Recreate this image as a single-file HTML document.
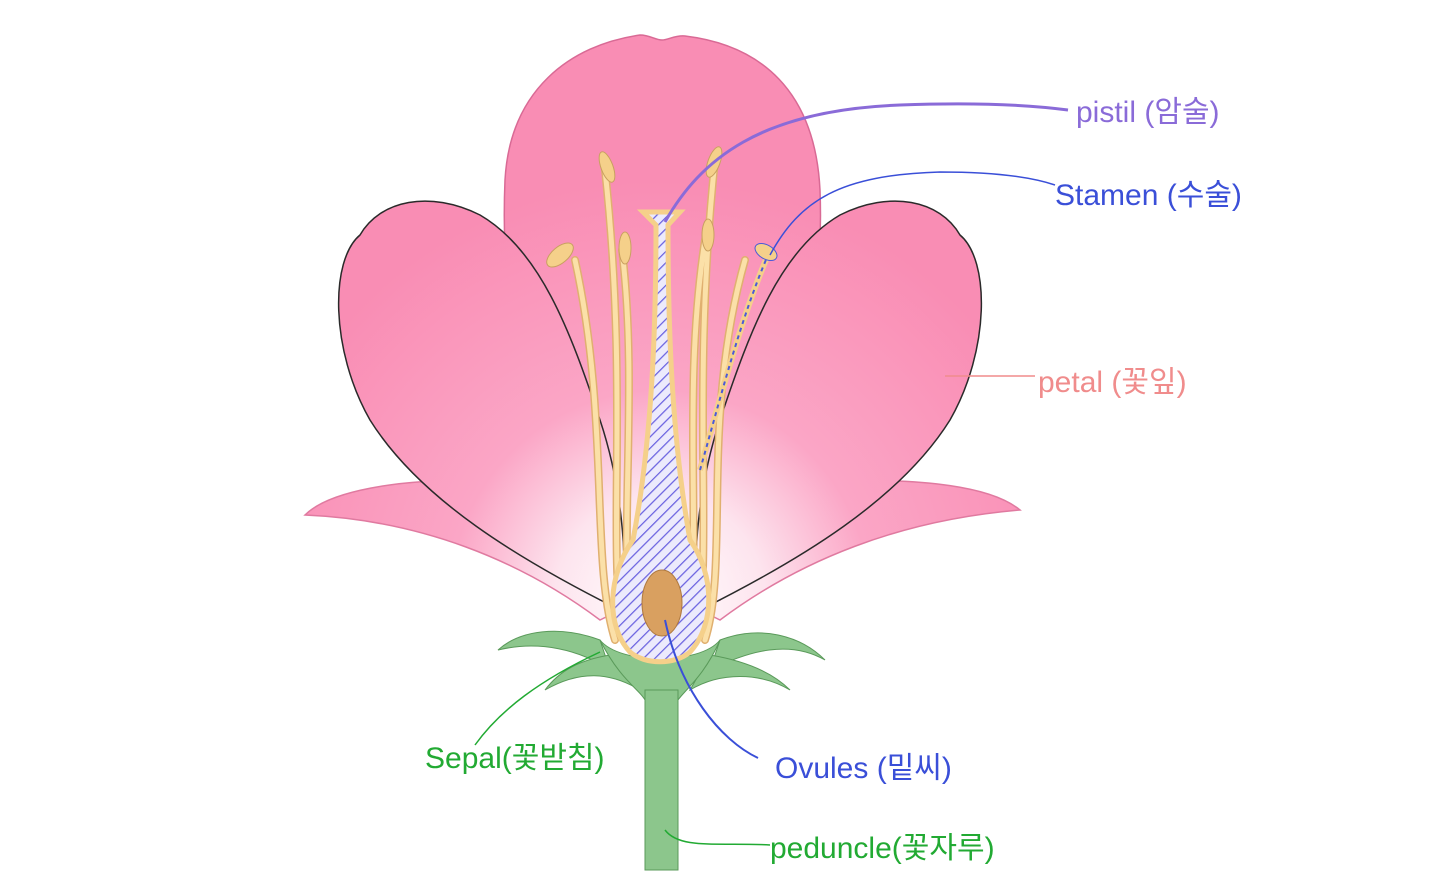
<!DOCTYPE html>
<html><head><meta charset="utf-8"><style>
html,body{margin:0;padding:0;background:#fff;width:1431px;height:896px;overflow:hidden}
text{font-family:"Liberation Sans","Noto Sans CJK KR",sans-serif;font-size:30px}
</style></head><body>
<svg width="1431" height="896" viewBox="0 0 1431 896" xmlns="http://www.w3.org/2000/svg">
<defs>
<radialGradient id="pg" cx="660" cy="600" r="420" gradientUnits="userSpaceOnUse">
<stop offset="0" stop-color="#fff"/><stop offset="0.25" stop-color="#fde4ee"/><stop offset="0.5" stop-color="#fba6c6"/><stop offset="1" stop-color="#f98db4"/></radialGradient>
<pattern id="hatch" width="8" height="8" patternUnits="userSpaceOnUse" patternTransform="rotate(45)">
<rect width="8" height="8" fill="#eceafc"/><line x1="0" y1="0" x2="0" y2="8" stroke="#6a62e0" stroke-width="2.5"/></pattern>
</defs>
<path d="M600,620 C520,560 420,520 305,515 C330,490 400,480 470,480 C540,470 600,520 640,600Z" fill="url(#pg)" stroke="#e07aa0" stroke-width="1.5"/>
<path d="M720,620 C800,560 900,520 1020,510 C990,485 920,480 850,480 C780,470 720,520 680,600Z" fill="url(#pg)" stroke="#e07aa0" stroke-width="1.5"/>
<path d="M600,600 C520,450 500,300 505,180 C510,90 570,45 640,35 C650,35 655,40 662,40 C668,40 675,35 685,36 C760,45 815,90 820,190 C825,320 790,470 720,600Z" fill="url(#pg)" stroke="#d96a95" stroke-width="1.5"/>
<path d="M620,610 C520,560 420,500 370,420 C330,350 330,260 360,235 C380,200 430,190 480,215 C540,250 570,330 600,420 C620,480 630,560 620,610Z" fill="url(#pg)" stroke="#2a2a2a" stroke-width="1.5"/>
<path d="M700,610 C800,560 900,500 950,420 C990,350 990,260 960,235 C940,200 890,190 840,215 C780,250 750,330 720,420 C700,480 690,560 700,610Z" fill="url(#pg)" stroke="#2a2a2a" stroke-width="1.5"/>
<path d="M600,640 C560,625 520,630 498,650 C540,640 580,650 610,670Z" fill="#8cc68c" stroke="#5a9a5a"/>
<path d="M720,640 C760,625 800,635 825,660 C790,640 750,650 710,670Z" fill="#8cc68c" stroke="#5a9a5a"/>
<path d="M610,655 C580,660 560,670 545,690 C580,670 610,672 640,690Z" fill="#8cc68c" stroke="#5a9a5a"/>
<path d="M710,655 C740,660 770,670 790,690 C760,672 720,672 690,690Z" fill="#8cc68c" stroke="#5a9a5a"/>
<path d="M600,640 C620,680 640,690 645,700 L678,700 C685,690 705,675 720,640 C700,665 620,665 600,640Z" fill="#8cc68c" stroke="#5a9a5a"/>
<rect x="645" y="690" width="33" height="180" fill="#8cc68c" stroke="#5a9a5a"/>
<g fill="none" stroke="#e0b070" stroke-width="8" stroke-linecap="round">
<path d="M615,640 C590,560 610,420 575,260"/>
<path d="M625,640 C605,560 630,400 605,170"/>
<path d="M635,650 C615,560 640,400 622,250"/>
<path d="M705,640 C730,560 700,420 745,260"/>
<path d="M695,640 C715,560 690,400 715,160"/>
<path d="M685,650 C705,560 680,400 705,240"/>
</g>
<g fill="none" stroke="#fbe0a8" stroke-width="5" stroke-linecap="round">
<path d="M615,640 C590,560 610,420 575,260"/>
<path d="M625,640 C605,560 630,400 605,170"/>
<path d="M635,650 C615,560 640,400 622,250"/>
<path d="M705,640 C730,560 700,420 745,260"/>
<path d="M695,640 C715,560 690,400 715,160"/>
<path d="M685,650 C705,560 680,400 705,240"/>
</g>
<g fill="#f5d08a" stroke="#c9a060">
<ellipse cx="560" cy="255" rx="8" ry="16" transform="rotate(50 560 255)"/>
<ellipse cx="607" cy="167" rx="6" ry="16" transform="rotate(-20 607 167)"/>
<ellipse cx="625" cy="248" rx="6" ry="16"/>
<ellipse cx="714" cy="162" rx="6" ry="16" transform="rotate(20 714 162)"/>
<ellipse cx="708" cy="235" rx="6" ry="16"/>
</g>
<path d="M700,470 C720,400 740,320 768,255" fill="none" stroke="#f5d08a" stroke-width="6"/>
<path d="M700,470 C720,400 740,320 768,255" fill="none" stroke="#4a5ad8" stroke-width="2" stroke-dasharray="4 4"/>
<ellipse cx="766" cy="252" rx="12" ry="7" transform="rotate(30 766 252)" fill="#f5d08a" stroke="#4a5ad8"/>
<path d="M643,212 L680,212 L668,225 C668,330 672,440 690,540 C715,575 715,625 690,652 C675,665 645,665 630,652 C605,625 608,575 633,540 C652,440 656,330 656,225Z" fill="url(#hatch)" stroke="#f5d08a" stroke-width="5"/>
<ellipse cx="662" cy="603" rx="20" ry="33" fill="#d9a060" stroke="#b07a40"/>
<path d="M665,222 C700,160 760,110 900,105 C980,102 1030,105 1068,110" fill="none" stroke="#8a6bd8" stroke-width="3"/>
<path d="M770,255 C800,200 840,175 940,172 C1010,172 1040,180 1055,185" fill="none" stroke="#3a4fd8" stroke-width="1.5"/>
<path d="M945,376 L1035,376" stroke="#f08c8c" stroke-width="1.5"/>
<path d="M600,652 C540,680 500,710 475,745" fill="none" stroke="#22aa33" stroke-width="1.5"/>
<path d="M665,620 C680,690 720,740 758,758" fill="none" stroke="#3a4fd8" stroke-width="2"/>
<path d="M665,830 C680,850 720,842 770,845" fill="none" stroke="#22aa33" stroke-width="1.5"/>
<text x="1076" y="122" fill="#8a6bd8">pistil (암술)</text>
<text x="1055" y="205" fill="#3a4fd8">Stamen (수술)</text>
<text x="1038" y="392" fill="#f08c8c">petal (꽃잎)</text>
<text x="425" y="768" fill="#22aa33">Sepal(꽃받침)</text>
<text x="775" y="778" fill="#3a4fd8">Ovules (밑씨)</text>
<text x="770" y="858" fill="#22aa33">peduncle(꽃자루)</text>
</svg>
</body></html>
